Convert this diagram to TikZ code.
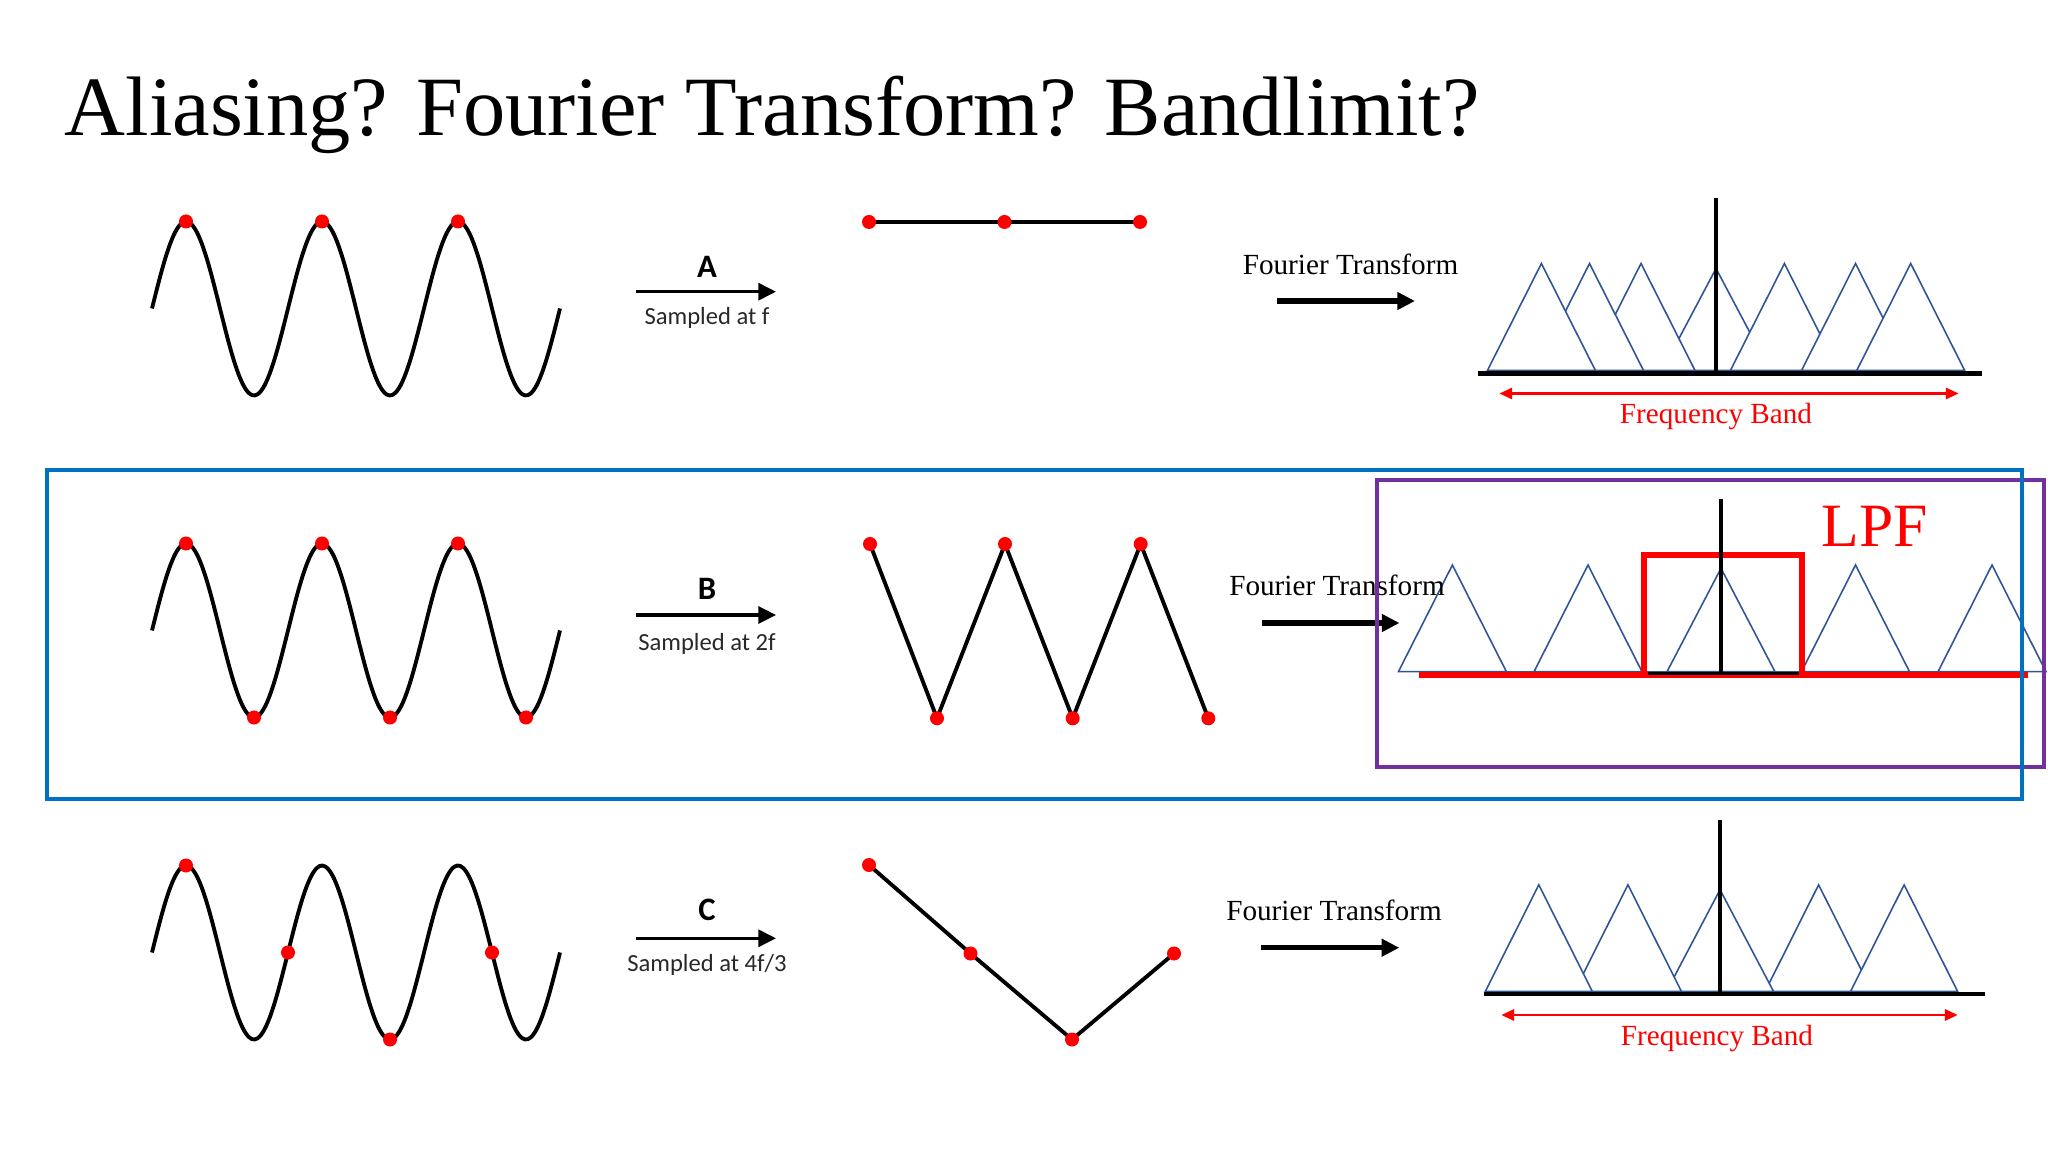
\documentclass[tikz,border=0pt]{standalone}
\usepackage{fontspec}
\setmainfont{Liberation Serif}
\newfontfamily\calibri{Carlito}
\usetikzlibrary{arrows.meta}
\definecolor{tri}{RGB}{47,85,151}
\definecolor{boxblue}{RGB}{0,112,192}
\definecolor{boxpurple}{RGB}{112,48,160}
\definecolor{txtgray}{RGB}{40,40,40}
\begin{document}
\begin{tikzpicture}[x=0.01cm,y=-0.01cm,
  wave/.style={line width=1.1pt,line join=round},
  sampdot/.style={circle,fill=red,inner sep=0pt,minimum size=0.14cm},
  samparrow/.style={-{Triangle[length=5pt,width=4.8pt]},line width=0.95pt},
  ftarrow/.style={-{Triangle[length=5pt,width=4.8pt]},line width=1.5pt},
  bandarrow/.style={{Triangle[length=3.6pt,width=3.2pt]}-{Triangle[length=3.6pt,width=3.2pt]},red,line width=0.6pt},
  spike/.style={draw=tri,fill=white,line width=0.45pt},
  lbl/.style={inner sep=0pt,anchor=base},
  letter/.style={lbl,font=\calibri\bfseries\fontsize{9.3}{11}\selectfont},
  rate/.style={lbl,text=txtgray,font=\calibri\fontsize{7}{8.4}\selectfont},
  ft/.style={lbl,font=\fontsize{8.3}{10}\selectfont},
  band/.style={lbl,text=red,font=\fontsize{8.3}{10}\selectfont}]
\useasboundingbox (0,0) rectangle (2048,1152);
% title
\node[lbl,anchor=base west,font=\fontsize{24}{29}\selectfont] (title) at (64,136) {Aliasing? Fourier Transform? Bandlimit?};
% original signals (period 136)
\foreach \yc in {308.5,630.5,952.5}
  \draw[wave,domain=152:560,samples=140,smooth] plot (\x,{\yc-87*sin((\x-152)*2.6471)});
\foreach \i in {0,1,2} \node[sampdot] (pa\i) at (186+136*\i,221.5) {};
\foreach \i in {0,1,2} {
  \node[sampdot] (pb\i) at (186+136*\i,543.5) {};
  \node[sampdot] (qb\i) at (254+136*\i,717.5) {};
}
\foreach \i in {0,...,3}
  \node[sampdot] (pc\i) at ({186+102*\i},{952.5-87*sin((34+102*\i)*2.6471)}) {};
% sampling arrows
\coordinate (sa0) at (636,291.7); \coordinate (sa1) at (776,291.7);
\coordinate (sb0) at (636,615);   \coordinate (sb1) at (776,615);
\coordinate (sc0) at (636,938.3); \coordinate (sc1) at (776,938.3);
\draw[samparrow] (sa0) -- (sa1);
\draw[samparrow] (sb0) -- (sb1);
\draw[samparrow] (sc0) -- (sc1);
\node[letter] (la) at (707,277.7) {A};
\node[rate] (ra) at (707,324.3) {Sampled at f};
\node[letter] (lb) at (707,599.3) {B};
\node[rate] (rb) at (707,650) {Sampled at 2f};
\node[letter] (lc) at (707,920) {C};
\node[rate] (rc) at (707,971.7) {Sampled at 4f/3};
% sampled signals
\coordinate (ma0) at (869,222); \coordinate (ma1) at (1004.5,222); \coordinate (ma2) at (1140,222);
\draw[wave,line width=0.9pt] (ma0) -- (ma1) -- (ma2);
\foreach \i in {0,1,2} \node[sampdot] (da\i) at (ma\i) {};
\coordinate (mb0) at (870,544);    \coordinate (mb1) at (937,718.3);
\coordinate (mb2) at (1005,544);   \coordinate (mb3) at (1072.7,718.3);
\coordinate (mb4) at (1140.7,544); \coordinate (mb5) at (1208.3,718.3);
\draw[wave] (mb0) -- (mb1) -- (mb2) -- (mb3) -- (mb4) -- (mb5);
\foreach \i in {0,...,5} \node[sampdot] (db\i) at (mb\i) {};
\coordinate (mc0) at (869,865); \coordinate (mc1) at (970.5,953.5);
\coordinate (mc2) at (1072,1039.5); \coordinate (mc3) at (1174,953.5);
\draw[wave] (mc0) -- (mc1) -- (mc2) -- (mc3);
\foreach \i in {0,...,3} \node[sampdot] (dc\i) at (mc\i) {};
% Fourier transform arrows
\coordinate (fa0) at (1277,301);   \coordinate (fa1) at (1415,301);
\coordinate (fb0) at (1261.6,623); \coordinate (fb1) at (1399.5,623);
\coordinate (fc0) at (1260.7,947.7); \coordinate (fc1) at (1399.3,947.7);
\draw[ftarrow] (fa0) -- (fa1);
\draw[ftarrow] (fb0) -- (fb1);
\draw[ftarrow] (fc0) -- (fc1);
\node[ft] (ta) at (1350.5,274.3) {Fourier Transform};
% spectrum A
\foreach \ax/\ay in {1716/268.5,1641/263.5,1784.4/263.5,1589.5/263.5,1855.5/263.5,1541.4/263.5,1910.7/263.5}
  \draw[spike] (\ax-54,370.5) -- (\ax,\ay) -- (\ax+54,370.5) -- cycle;
\draw[line width=1.2pt] (1478,373.5) -- (1982,373.5);
\draw[line width=1.15pt] (1716,198.5) -- (1716,373.5);
\coordinate (ba0) at (1499.5,393.5); \coordinate (ba1) at (1958.5,393.5);
\draw[bandarrow] (ba0) -- (ba1);
\node[band] (na) at (1716,423.7) {Frequency Band};
% spectrum B with low pass filter
\foreach \ax/\ay in {1452.4/565,1588/565,1721/568.3,1855.5/565,1992/565}
  \draw[spike] (\ax-54,671.7) -- (\ax,\ay) -- (\ax+54,671.7) -- cycle;
\draw[tri,line width=0.45pt] (1398,671.7) -- (2046,671.7);
\draw[red,line width=1.7pt] (1644.4,673) -- (1644.4,555) -- (1802.2,555) -- (1802.2,673);
\draw[red,line width=1.7pt] (1419,675) -- (2027.6,675);
\draw[line width=1pt] (1648,673.5) -- (1798.5,673.5);
\draw[line width=1pt] (1721,499) -- (1721,673);
\node[lbl,text=red,font=\fontsize{17.5}{21}\selectfont] (lpf) at (1875,546.7) {LPF};
\node[ft] (tb) at (1337,596) {Fourier Transform};
% spectrum C
\foreach \ax/\ay in {1818.6/884.8,1720/889.7,1904.1/884.8,1627.9/884.8,1538.8/884.8}
  \draw[spike] (\ax-53.5,991.4) -- (\ax,\ay) -- (\ax+53.5,991.4) -- cycle;
\draw[line width=1.2pt] (1483.6,994) -- (1985,994);
\draw[line width=1.15pt] (1720,820) -- (1720,994);
\coordinate (bc0) at (1501.4,1015); \coordinate (bc1) at (1957.6,1015);
\draw[bandarrow] (bc0) -- (bc1);
\node[band] (nc) at (1717,1045.5) {Frequency Band};
\node[ft] (tc) at (1334,920.7) {Fourier Transform};
% boxes
\draw[boxpurple,line width=1.15pt] (1377,480) rectangle (2044,767);
\draw[boxblue,line width=1.15pt] (47,470) rectangle (2021.7,799);
\end{tikzpicture}
\end{document}
